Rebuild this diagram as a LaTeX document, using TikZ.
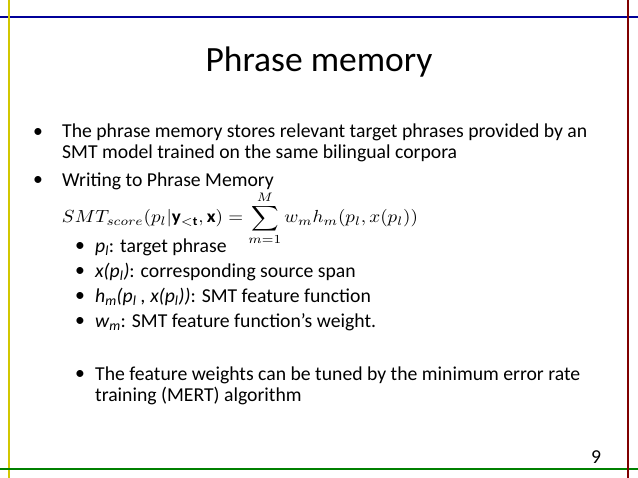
\documentclass[tikz,border=0pt]{standalone}
\usepackage{fontspec}
\setmainfont{Carlito}
\usepackage{amsmath}
\usepackage{graphicx}
\begin{document}
\begin{tikzpicture}[x=1pt,y=-1pt,
  txt/.style={anchor=west,inner sep=0pt,font=\fontsize{19.7}{21}\selectfont,align=left},
  bul/.style={anchor=center,inner sep=0pt,font=\fontsize{19.7}{21}\selectfont}]
\useasboundingbox (0,0) rectangle (638,478);
\fill[white] (0,0) rectangle (638,478);
\draw[line width=2pt,blue!60!black] (0,17) -- (638,17);
\draw[line width=1.5pt,yellow!60!olive] (9,0) -- (9,478);
\draw[line width=1.5pt,green!50!black] (0,469) -- (638,469);
\draw[line width=1.5pt,red!50!black] (628,0) -- (628,478);
\node[inner sep=0pt,font=\fontsize{35.5}{40}\selectfont] (title) at (319,62) {Phrase memory};
\node[bul] (b1) at (38,133) {•};
\node[txt] (t1) at (62,143) {The phrase memory stores relevant target phrases provided by an\\SMT model trained on the same bilingual corpora};
\node[bul] (b2) at (38,181) {•};
\node[txt] (t2) at (62,181) {Writing to Phrase Memory};
\node[inner sep=0pt] (eq) at (240,218)
  {\resizebox{356pt}{32pt}{$\displaystyle SMT_{score}(p_l|\mathbf{y}_{<\mathbf{t}},\mathbf{x})=\sum_{m=1}^{M}w_m h_m(p_l,x(p_l))$}};
\node[bul] (s1) at (80,247) {•};
\node[txt] (u1) at (95,247) {\textit{p\textsubscript{l}}: target phrase};
\node[bul] (s2) at (80,272) {•};
\node[txt] (u2) at (95,272) {\textit{x(p\textsubscript{l})}: corresponding source span};
\node[bul] (s3) at (80,297) {•};
\node[txt] (u3) at (95,297) {\textit{h\textsubscript{m}(p\textsubscript{l} , x(p\textsubscript{l}))}: SMT feature function};
\node[bul] (s4) at (80,322) {•};
\node[txt] (u4) at (95,322) {\textit{w\textsubscript{m}}: SMT feature function’s weight.};
\node[bul] (s5) at (80,375) {•};
\node[txt] (u5) at (95,386) {The feature weights can be tuned by the minimum error rate\\training (MERT) algorithm};
\node[inner sep=0pt,font=\fontsize{19.7}{21}\selectfont] (pg) at (596,457) {9};
\end{tikzpicture}
\end{document}
